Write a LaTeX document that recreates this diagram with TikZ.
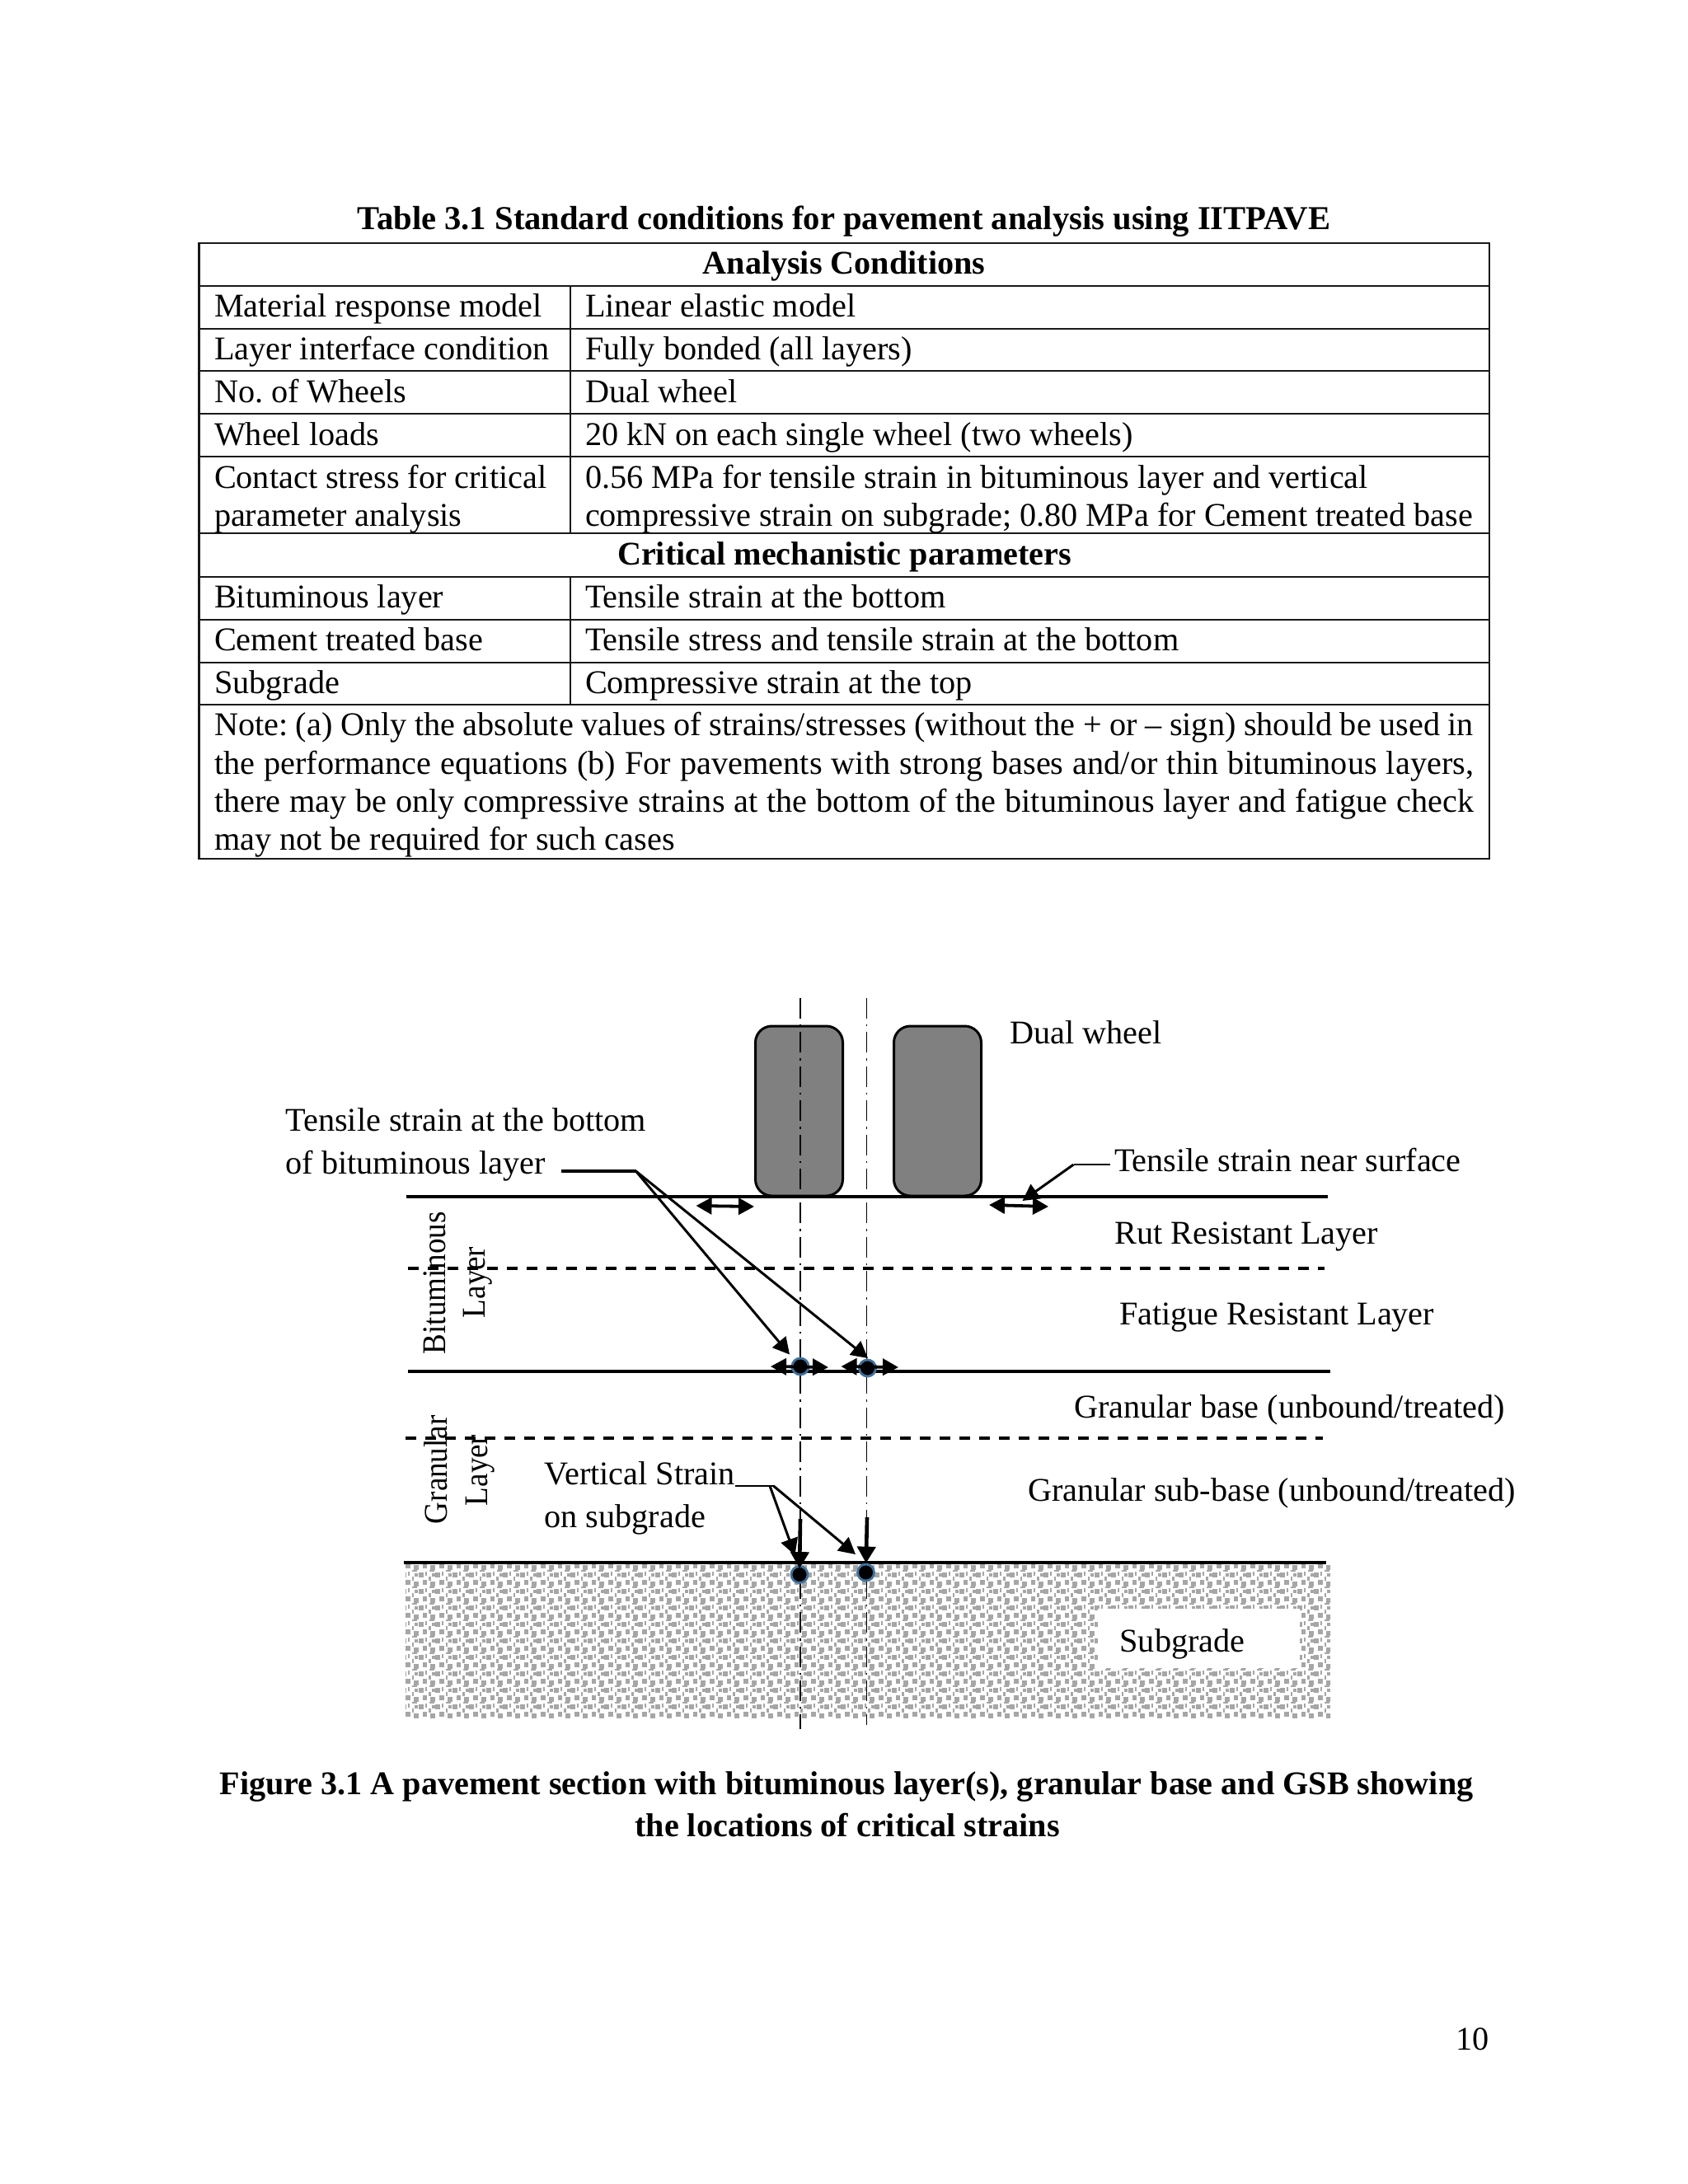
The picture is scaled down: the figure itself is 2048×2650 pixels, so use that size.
\documentclass[tikz,border=0pt]{standalone}
\usepackage{fontspec}
\setmainfont{Liberation Serif}
\usetikzlibrary{arrows.meta}
\definecolor{spotedge}{HTML}{41719C}
\newcommand{\squeezed}[1]{\scalebox{0.92}[1]{#1}}
\tikzset{
  txt/.style={anchor=base west,inner sep=0pt,outer sep=0pt,font=\fontsize{20.12}{24}\selectfont,text=black},
  btxt/.style={anchor=base,inner sep=0pt,outer sep=0pt,font=\fontsize{20.08}{24}\selectfont\bfseries,text=black},
  vtxt/.style={txt,rotate=90},
  rule/.style={draw=black!90,line width=1.1pt},
  road/.style={draw=black,line width=1.8pt},
  roaddash/.style={draw=black,line width=1.9pt,dash pattern=on 6.5pt off 5.5pt},
  axis/.style={draw=black,line width=0.55pt,dash pattern=on 12.5pt off 3.5pt on 1.2pt off 3.5pt},
  wheel/.style={draw=black,fill=black!50,line width=1.5pt,rounded corners=10pt,minimum width=53pt,minimum height=103pt,inner sep=0pt},
  spot/.style={circle,fill=black,draw=spotedge,line width=1.4pt,minimum size=10pt,inner sep=0pt},
  lead/.style={draw=black,line width=1.4pt},
  arr/.style={draw=black,line width=1.5pt,-{Triangle[length=10pt,width=10.5pt]}},
  darr/.style={draw=black,line width=1.9pt,{Triangle[length=9.5pt,width=10pt]}-{Triangle[length=9.5pt,width=10pt]}},
  varr/.style={draw=black,line width=2.3pt,-{Triangle[length=10pt,width=11pt]}},
  hat/.style={fill=black!35,draw=none}
}
\begin{document}
\frenchspacing
\begin{tikzpicture}[x=0.5pt,y=-0.5pt]
\fill[white,use as bounding box] (0,0) rectangle (2048,2650);
% table title
\node[btxt,font=\fontsize{20.3}{24}\selectfont\bfseries] (tabtitle) at (1024,278) {Table 3.1 Standard conditions for pavement analysis using IITPAVE};
% table rules
\draw[rule] (241.5,295) rectangle (1807,1042);
\foreach \yy in {347,399,450,502,554,647,700,752,804,855}
  \draw[rule] (241.5,\yy) -- (1807,\yy);
\draw[rule] (692,347) -- (692,647);
\draw[rule] (692,700) -- (692,855);
% table text
\node[btxt] (hA) at (1024,332.5) {Analysis Conditions};
\node[txt] (a1) at (260,384.5) {Material response model};
\node[txt] (b1) at (710,384.5) {Linear elastic model};
\node[txt] (a2) at (260,436) {Layer interface condition};
\node[txt] (b2) at (710,436) {Fully bonded (all layers)};
\node[txt] (a3) at (260,488) {No. of Wheels};
\node[txt] (b3) at (710,488) {Dual wheel};
\node[txt] (a4) at (260,540) {Wheel loads};
\node[txt] (b4) at (710,540) {20 kN on each single wheel (two wheels)};
\node[txt] (a5) at (260,592) {Contact stress for critical};
\node[txt] (b5) at (710,592) {0.56 MPa for tensile strain in bituminous layer and vertical};
\node[txt] (a6) at (260,638.5) {parameter analysis};
\node[txt] (b6) at (710,638.5) {compressive strain on subgrade; 0.80 MPa for Cement treated base};
\node[btxt] (hC) at (1024.5,685.5) {Critical mechanistic parameters};
\node[txt] (c1) at (260,737.5) {Bituminous layer};
\node[txt] (d1) at (710,737.5) {Tensile strain at the bottom};
\node[txt] (c2) at (260,789.5) {Cement treated base};
\node[txt] (d2) at (710,789.5) {Tensile stress and tensile strain at the bottom};
\node[txt] (c3) at (260,841.5) {Subgrade};
\node[txt] (d3) at (710,841.5) {Compressive strain at the top};
\node[txt] (n1) at (260,892.5) {\hbox to 764pt{Note: (a) Only the absolute values of strains/stresses (without the + or – sign) should be used in}};
\node[txt] (n2) at (260,939.5) {\hbox to 764pt{the performance equations (b) For pavements with strong bases and/or thin bituminous layers,}};
\node[txt] (n3) at (260,985.5) {\hbox to 764pt{there may be only compressive strains at the bottom of the bituminous layer and fatigue check}};
\node[txt] (n4) at (260,1031.5) {may not be required for such cases};
% subgrade hatch
\begin{scope}
\clip (492,1898) rectangle (1614,2084);
\foreach \ci in {0,...,55}{
  \foreach \cj in {0,...,9}{
    \pgfmathsetmacro{\px}{490+20.5*\ci}
    \pgfmathsetmacro{\py}{1898+20*\cj}
    \begin{scope}[shift={(\px,\py)}]
      \fill[hat] (11.7,0.7) rectangle +(6,6);
      \fill[hat] (2.2,-1) rectangle +(5.5,5.5);
      \fill[hat] (-2.8,9.7) rectangle +(6,6);
      \fill[hat] (10,7) rectangle +(6,2);
      \fill[hat] (5,9) rectangle +(2,5);
      \fill[hat] (13,11) rectangle +(4,4);
      \fill[hat] (9.5,15) rectangle +(2.5,5);
    \end{scope}
  }
}
\end{scope}
\fill[white] (1332,1952) rectangle (1577,2024);
% layer lines
\draw[road] (492.5,1452) -- (1611,1452);
\draw[roaddash] (495,1539) -- (1607,1539);
\draw[road] (495,1664) -- (1614,1664);
\draw[roaddash] (492,1745) -- (1605,1745);
\draw[road] (490,1896) -- (1609,1896);
% wheels
\node[wheel] (w1) at (969.5,1348) {};
\node[wheel] (w2) at (1137.5,1348) {};
% axes
\coordinate (ax1t) at (971,1211);
\coordinate (ax1b) at (971,2098);
\coordinate (ax2t) at (1051.5,1211);
\coordinate (ax2b) at (1051.5,2093);
\draw[axis] (ax1t) -- (ax1b);
\draw[axis] (ax2t) -- (ax2b);
% labels
\node[txt] (lt1) at (346.5,1372) {Tensile strain at the bottom};
\node[txt] (lt2) at (346.5,1424.5) {of bituminous layer};
\node[txt] (ldw) at (1225,1266.5) {Dual wheel};
\node[txt] (lns) at (1352,1421.5) {Tensile strain near surface};
\node[txt] (lrr) at (1352.5,1509.5) {Rut Resistant Layer};
\node[txt] (lfr) at (1358,1607.5) {Fatigue Resistant Layer};
\node[txt] (lgb) at (1303,1720) {Granular base (unbound/treated)};
\node[txt] (lgs) at (1247,1821) {Granular sub-base (unbound/treated)};
\node[txt] (lvs) at (660.5,1801.5) {Vertical Strain};
\node[txt] (lvs2) at (660.5,1853.5) {on subgrade};
\node[txt] (lsg) at (1358.5,2004) {Subgrade};
\node[vtxt] (lbit) at (540,1643) {\squeezed{Bituminous}};
\node[vtxt] (lbl) at (588.5,1599) {\squeezed{Layer}};
\node[vtxt] (lgr) at (542.5,1849) {\squeezed{Granular}};
\node[vtxt] (lgl) at (591.5,1827) {\squeezed{Layer}};
% spots
\node[spot] (s1) at (971,1658) {};
\node[spot] (s2) at (1052.5,1660) {};
\node[spot] (s3) at (970,1910.5) {};
\node[spot] (s4) at (1050.5,1908) {};
% tensile strain arrows
\coordinate (da1) at (844.5,1463);
\coordinate (da2) at (915,1464);
\coordinate (da3) at (1200,1462);
\coordinate (da4) at (1272,1464);
\coordinate (da5) at (935,1658);
\coordinate (da6) at (1005,1659);
\coordinate (da7) at (1020.5,1658);
\coordinate (da8) at (1090,1659);
\draw[darr] (da1) -- (da2);
\draw[darr] (da3) -- (da4);
\draw[darr] (da5) -- (da6);
\draw[darr] (da7) -- (da8);
% leaders
\coordinate (tb0) at (681,1421);
\coordinate (tb1) at (771.5,1421);
\coordinate (tb2) at (958,1643.5);
\coordinate (tb3) at (1053,1648);
\draw[lead,line width=1.7pt] (tb0) -- (tb1);
\draw[arr] (tb1) -- (tb2);
\draw[arr] (tb1) -- (tb3);
\coordinate (ns0) at (1347,1413);
\coordinate (ns1) at (1302.5,1413);
\coordinate (ns2) at (1240.5,1457);
\draw[lead,line width=1pt] (ns0) -- (ns1);
\draw[arr] (ns1) -- (ns2);
\coordinate (vs0) at (892,1803);
\coordinate (vs1) at (938.5,1803);
\coordinate (vs1b) at (934,1803);
\coordinate (vs2) at (964.5,1887);
\coordinate (vs3) at (1038,1886);
\draw[lead,line width=1.1pt] (vs0) -- (vs1);
\draw[arr] (vs1b) -- (vs2);
\draw[arr] (vs1) -- (vs3);
\coordinate (v1t) at (971,1843);
\coordinate (v2t) at (1052,1841);
\draw[varr,shorten >=-2pt] (v1t) -- (s3);
\draw[varr] (v2t) -- (s4);
% caption
\node[btxt] (cap1) at (1027,2177) {Figure 3.1 A pavement section with bituminous layer(s), granular base and GSB showing};
\node[btxt] (cap2) at (1028,2228.5) {the locations of critical strains};
\node[txt,anchor=base east] (pg) at (1807,2487) {10};
\end{tikzpicture}
\end{document}
